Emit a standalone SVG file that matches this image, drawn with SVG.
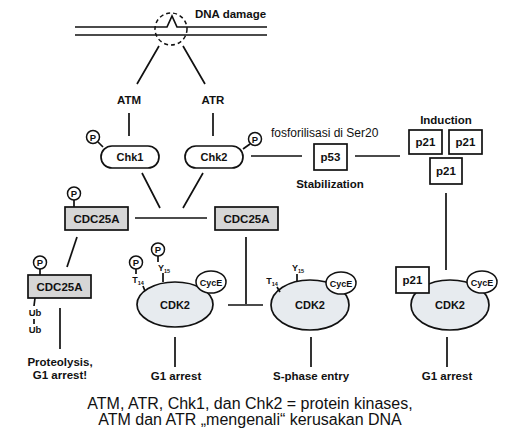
<svg xmlns="http://www.w3.org/2000/svg" width="512" height="440" viewBox="0 0 512 440">
<style>
  text { font-family: "Liberation Sans", Arial, sans-serif; fill: #111; }
  .b { font-weight: bold; font-size: 11.5px; text-anchor: middle; }
  .s { font-weight: bold; font-size: 9px; text-anchor: middle; }
  .pt { font-weight: bold; font-size: 9.5px; text-anchor: middle; }
  .sub { font-size: 5.5px; font-weight: bold; }
  .ln { stroke: #111; stroke-width: 1.7; fill: none; }
  .box { fill: #fff; stroke: #111; stroke-width: 1.7; }
  .gbox { fill: #d6d6d6; stroke: #111; stroke-width: 1.7; }
  .ell { fill: #e7ebef; stroke: #111; stroke-width: 1.7; }
  .cyc { fill: #fff; stroke: #111; stroke-width: 1.5; }
  .p { fill: #fff; stroke: #111; stroke-width: 1.5; }
</style>

<g id="dna">
  <path class="ln" d="M75,27 H167 L172,16 L177,27 H267 M75,35 H267"/>
  <circle cx="171" cy="29" r="16" fill="none" stroke="#111" stroke-width="1.5" stroke-dasharray="4 3"/>
  <text x="195" y="18" style="font-weight:bold;font-size:11.5px">DNA damage</text>
</g>

<g id="connectors">
  <path class="ln" d="M159,46 L137,84 M183,46 L205,84"/>
  <path class="ln" d="M129,113 V136 M213,113 V136"/>
  <path class="ln" d="M98,142 L103,147 M250,144 L243,149"/>
  <path class="ln" d="M251,156 H302 M355,156 H400"/>
  <path class="ln" d="M446,193 V270"/>
  <path class="ln" d="M142,173 L160,208 M203,173 L183,208"/>
  <path class="ln" d="M135,218 H207"/>
  <path class="ln" d="M74,200 V207 M40,269 V275"/>
  <path class="ln" d="M77,237 L67,267"/>
  <path class="ln" d="M246,237 V304 M228,305 H263"/>
  <path class="ln" d="M60,308 V349"/>
  <path class="ln" d="M175,337 V367 M311,337 V367 M447,337 V367"/>
</g>

<g id="atm"><text class="b" x="129" y="104">ATM</text></g>
<g id="atr"><text class="b" x="213" y="104">ATR</text></g>

<g id="chk1">
  <rect class="box" x="101" y="146" width="58" height="22" rx="11"/>
  <text class="b" x="130" y="161" style="font-size:11px">Chk1</text>
  <circle class="p" cx="93" cy="137" r="6.5"/><text class="pt" x="93" y="140.5">P</text>
</g>
<g id="chk2">
  <rect class="box" x="185" y="146" width="58" height="22" rx="11"/>
  <text class="b" x="214" y="161" style="font-size:11px">Chk2</text>
  <circle class="p" cx="255" cy="139" r="6.5"/><text class="pt" x="255" y="142.5">P</text>
</g>

<g id="p53">
  <text x="271" y="137" style="font-size:12px">fosforilisasi di Ser20</text>
  <rect class="box" x="314" y="144" width="33" height="26"/>
  <text class="b" x="330.5" y="161">p53</text>
  <text class="b" x="330" y="188">Stabilization</text>
</g>

<g id="p21-induction">
  <text class="b" x="446" y="124">Induction</text>
  <rect class="box" x="409" y="130" width="33" height="24"/><text class="b" x="425.5" y="146">p21</text>
  <rect class="box" x="449" y="130" width="33" height="24"/><text class="b" x="465.5" y="146">p21</text>
  <rect class="box" x="430" y="158" width="32" height="26"/><text class="b" x="446" y="175">p21</text>
</g>

<g id="cdc25a-left">
  <rect class="gbox" x="65" y="207" width="63" height="23"/>
  <text class="b" x="96.5" y="222.5">CDC25A</text>
  <circle class="p" cx="74" cy="193.5" r="6.5"/><text class="pt" x="74" y="197">P</text>
</g>
<g id="cdc25a-right">
  <rect class="gbox" x="215" y="207" width="63" height="23"/>
  <text class="b" x="246.5" y="222.5">CDC25A</text>
</g>

<g id="cdc25a-lower">
  <rect class="gbox" x="28" y="275" width="63" height="23"/>
  <text class="b" x="59.5" y="290.5">CDC25A</text>
  <circle class="p" cx="40" cy="262.5" r="6.5"/><text class="pt" x="40" y="266">P</text>
  <path class="ln" d="M35,298 L34,306 M34,319 V324" stroke-width="1.3"/>
  <text class="s" x="35" y="316" style="font-size:9.5px">Ub</text>
  <text class="s" x="35" y="333" style="font-size:9.5px">Ub</text>
  <text class="b" x="60" y="366">Proteolysis,</text>
  <text class="b" x="60" y="379">G1 arrest!</text>
</g>

<g id="cdk2-left">
  <ellipse class="ell" cx="175" cy="304.5" rx="38" ry="22.5"/>
  <ellipse class="cyc" cx="211" cy="282" rx="15" ry="11"/>
  <text class="s" x="211" y="285.5">CycE</text>
  <text class="b" x="175" y="309" style="font-size:11px">CDK2</text>
  <circle class="p" cx="136" cy="262.5" r="6.5"/><text class="pt" x="136" y="266">P</text>
  <path class="ln" d="M136,269 V274 M143,286 L145,291 M158,256 V262 M163,273 V282" stroke-width="1.3"/>
  <text class="s" x="138" y="283">T<tspan class="sub" dy="2">14</tspan></text>
  <circle class="p" cx="158" cy="249.5" r="6.5"/><text class="pt" x="158" y="253">P</text>
  <text class="s" x="164" y="271">Y<tspan class="sub" dy="2">15</tspan></text>
  <text class="b" x="176" y="380">G1 arrest</text>
</g>

<g id="cdk2-middle">
  <ellipse class="ell" cx="310" cy="305" rx="39" ry="25"/>
  <ellipse class="cyc" cx="341" cy="283" rx="15" ry="11"/>
  <text class="s" x="341" y="286.5">CycE</text>
  <text class="b" x="310" y="309" style="font-size:11px">CDK2</text>
  <path class="ln" d="M277,287 L280,292 M297,274 V282" stroke-width="1.3"/>
  <text class="s" x="272" y="284">T<tspan class="sub" dy="2">14</tspan></text>
  <text class="s" x="298" y="271">Y<tspan class="sub" dy="2">15</tspan></text>
  <text class="b" x="311" y="380">S-phase entry</text>
</g>

<g id="cdk2-right">
  <ellipse class="ell" cx="450" cy="305" rx="39" ry="25"/>
  <ellipse class="cyc" cx="482" cy="282" rx="15" ry="11"/>
  <text class="s" x="482" y="285.5">CycE</text>
  <rect class="box" x="396" y="267" width="33" height="26"/>
  <text class="b" x="412.5" y="284">p21</text>
  <text class="b" x="450" y="309" style="font-size:11px">CDK2</text>
  <text class="b" x="447" y="380">G1 arrest</text>
</g>

<g id="caption">
  <text x="250" y="409" style="font-size:16px;text-anchor:middle">ATM, ATR, Chk1, dan Chk2 = protein kinases,</text>
  <text x="250" y="425" style="font-size:16px;text-anchor:middle">ATM dan ATR „mengenali“ kerusakan DNA</text>
</g>
</svg>
